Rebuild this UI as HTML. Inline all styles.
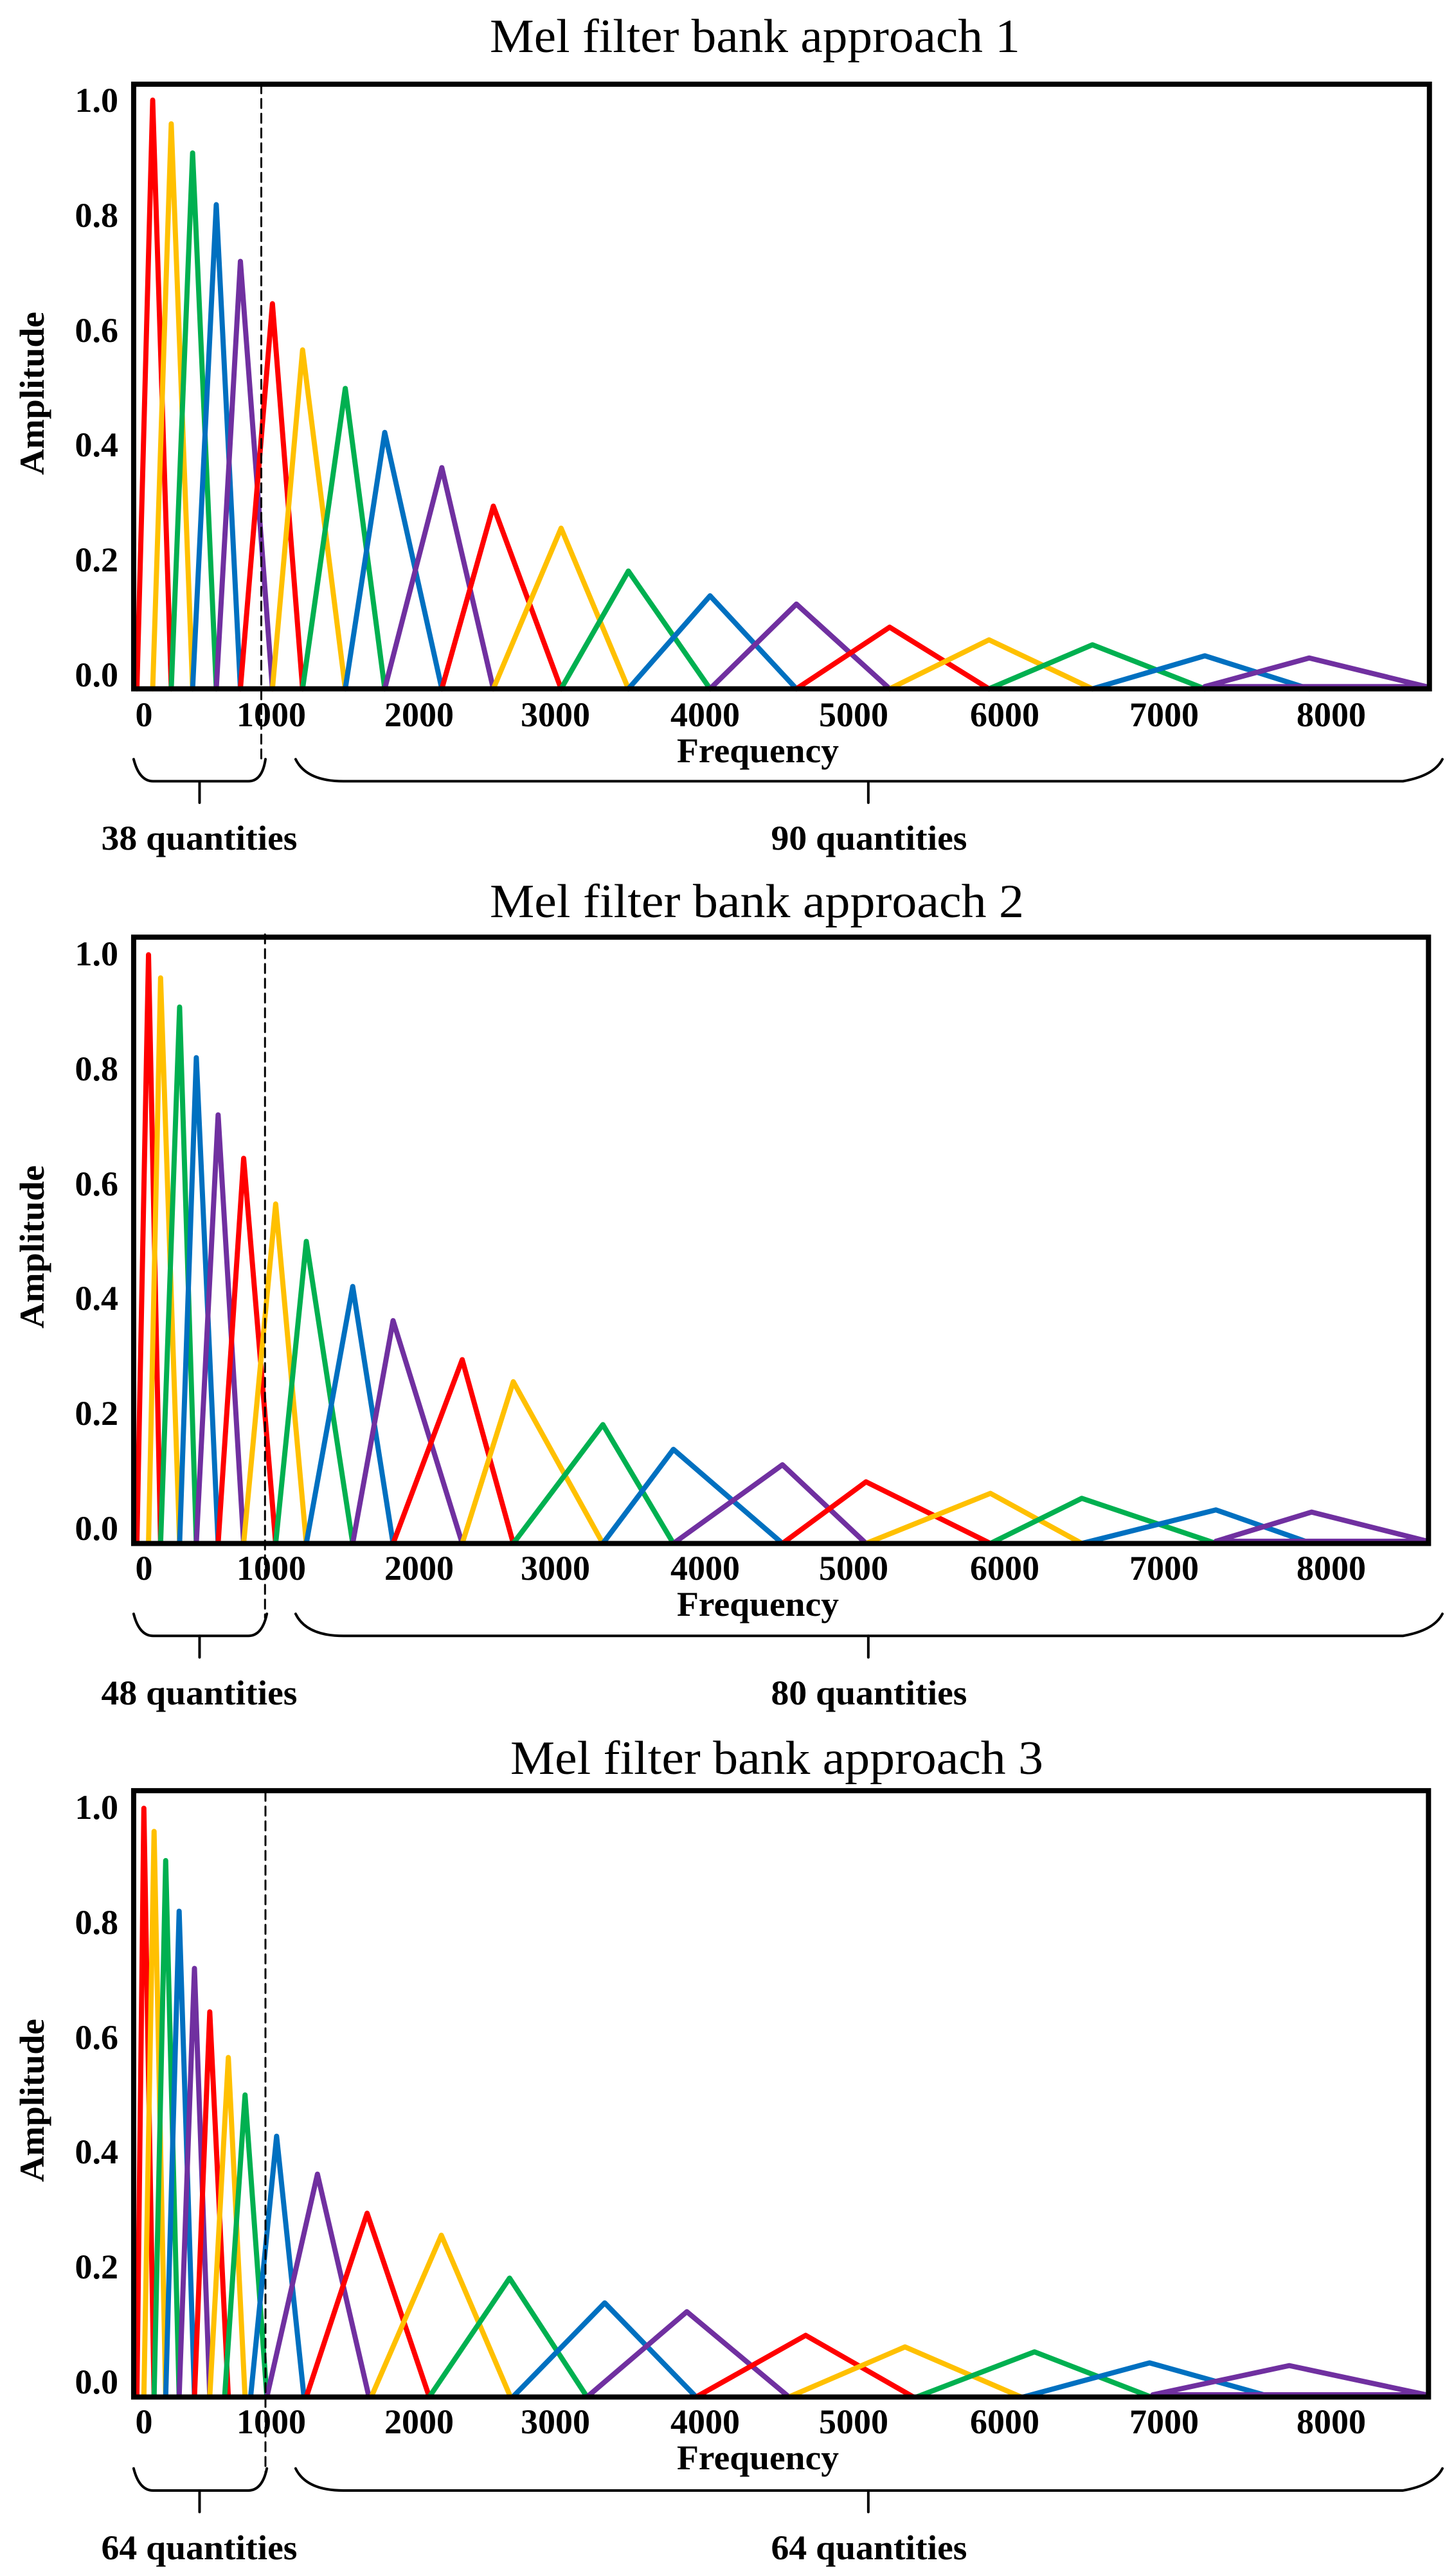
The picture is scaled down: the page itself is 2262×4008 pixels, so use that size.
<!DOCTYPE html>
<html><head><meta charset="utf-8"><style>
html,body{margin:0;padding:0;background:#fff;}
svg{display:block;}
.t{font-family:"Liberation Serif",serif;font-size:74px;fill:#000;}
.b{font-family:"Liberation Serif",serif;font-weight:bold;font-size:54px;fill:#000;}
</style></head><body>
<svg width="2262" height="4008" viewBox="0 0 2262 4008" xmlns="http://www.w3.org/2000/svg">
<rect width="2262" height="4008" fill="#fff"/>

<!-- PANEL 1 geometry (zoom coords) -->
<g transform="translate(0,0) scale(0.722,0.856)" fill="none" stroke-linejoin="round" stroke-linecap="round">
<polyline vector-effect="non-scaling-stroke" stroke-width="8" stroke="#FF0000" points="295,1252 329,182 369,1252"/>
<polyline vector-effect="non-scaling-stroke" stroke-width="8" stroke="#FFC000" points="329,1252 369,225 415,1252"/>
<polyline vector-effect="non-scaling-stroke" stroke-width="8" stroke="#00B050" points="369,1252 415,278 466,1252"/>
<polyline vector-effect="non-scaling-stroke" stroke-width="8" stroke="#0070C0" points="415,1252 466,372 518,1252"/>
<polyline vector-effect="non-scaling-stroke" stroke-width="8" stroke="#7030A0" points="466,1252 518,475 587,1252"/>
<polyline vector-effect="non-scaling-stroke" stroke-width="8" stroke="#FF0000" points="518,1252 587,552 652,1252"/>
<polyline vector-effect="non-scaling-stroke" stroke-width="8" stroke="#FFC000" points="587,1252 652,636 744,1252"/>
<polyline vector-effect="non-scaling-stroke" stroke-width="8" stroke="#00B050" points="652,1252 744,706 829,1252"/>
<polyline vector-effect="non-scaling-stroke" stroke-width="8" stroke="#0070C0" points="744,1252 829,786 952,1252"/>
<polyline vector-effect="non-scaling-stroke" stroke-width="8" stroke="#7030A0" points="829,1252 952,850 1063,1252"/>
<polyline vector-effect="non-scaling-stroke" stroke-width="8" stroke="#FF0000" points="952,1252 1063,920 1209,1252"/>
<polyline vector-effect="non-scaling-stroke" stroke-width="8" stroke="#FFC000" points="1063,1252 1209,960 1354,1252"/>
<polyline vector-effect="non-scaling-stroke" stroke-width="8" stroke="#00B050" points="1209,1252 1354,1038 1530,1252"/>
<polyline vector-effect="non-scaling-stroke" stroke-width="8" stroke="#0070C0" points="1354,1252 1530,1083 1716,1252"/>
<polyline vector-effect="non-scaling-stroke" stroke-width="8" stroke="#7030A0" points="1530,1252 1716,1098 1917,1252"/>
<polyline vector-effect="non-scaling-stroke" stroke-width="8" stroke="#FF0000" points="1716,1252 1917,1140 2131,1252"/>
<polyline vector-effect="non-scaling-stroke" stroke-width="8" stroke="#FFC000" points="1917,1252 2131,1163 2354,1252"/>
<polyline vector-effect="non-scaling-stroke" stroke-width="8" stroke="#00B050" points="2131,1252 2354,1172 2596,1252"/>
<polyline vector-effect="non-scaling-stroke" stroke-width="8" stroke="#0070C0" points="2354,1252 2596,1192 2821,1252"/>
<polyline vector-effect="non-scaling-stroke" stroke-width="8" stroke="#7030A0" points="2596,1248 2821,1196 3073,1248 2596,1248"/>
<rect x="288" y="153" width="2792" height="1099" stroke="#000" stroke-width="8" vector-effect="non-scaling-stroke" stroke-linejoin="miter"/>
<line x1="563" y1="153" x2="563" y2="1385" stroke="#000" stroke-width="3" stroke-dasharray="14 9" vector-effect="non-scaling-stroke"/>
<path d="M288,1380 Q300,1420 330,1420 L535,1420 Q565,1420 572,1380" stroke="#000" stroke-width="4" vector-effect="non-scaling-stroke"/>
<line x1="430" y1="1420" x2="430" y2="1459" stroke="#000" stroke-width="4" vector-effect="non-scaling-stroke"/>
<path d="M637,1380 Q660,1420 740,1420 L3023,1420 Q3090,1410 3108,1380" stroke="#000" stroke-width="4" vector-effect="non-scaling-stroke"/>
<line x1="1871" y1="1420" x2="1871" y2="1459" stroke="#000" stroke-width="4" vector-effect="non-scaling-stroke"/>
</g>

<!-- PANEL 2 geometry -->
<g transform="translate(0,1340) scale(0.722,0.856)" fill="none" stroke-linejoin="round" stroke-linecap="round">
<polyline vector-effect="non-scaling-stroke" stroke-width="8" stroke="#FF0000" points="295,1240 320,170 346,1240"/>
<polyline vector-effect="non-scaling-stroke" stroke-width="8" stroke="#FFC000" points="320,1240 346,212 387,1240"/>
<polyline vector-effect="non-scaling-stroke" stroke-width="8" stroke="#00B050" points="346,1240 387,265 423,1240"/>
<polyline vector-effect="non-scaling-stroke" stroke-width="8" stroke="#0070C0" points="387,1240 423,357 470,1240"/>
<polyline vector-effect="non-scaling-stroke" stroke-width="8" stroke="#7030A0" points="423,1240 470,461 525,1240"/>
<polyline vector-effect="non-scaling-stroke" stroke-width="8" stroke="#FF0000" points="470,1240 525,540 594,1240"/>
<polyline vector-effect="non-scaling-stroke" stroke-width="8" stroke="#FFC000" points="525,1240 594,623 660,1240"/>
<polyline vector-effect="non-scaling-stroke" stroke-width="8" stroke="#00B050" points="594,1240 660,691 760,1240"/>
<polyline vector-effect="non-scaling-stroke" stroke-width="8" stroke="#0070C0" points="660,1240 760,773 847,1240"/>
<polyline vector-effect="non-scaling-stroke" stroke-width="8" stroke="#7030A0" points="760,1240 847,835 996,1240"/>
<polyline vector-effect="non-scaling-stroke" stroke-width="8" stroke="#FF0000" points="847,1240 996,906 1106,1240"/>
<polyline vector-effect="non-scaling-stroke" stroke-width="8" stroke="#FFC000" points="996,1240 1106,946 1299,1240"/>
<polyline vector-effect="non-scaling-stroke" stroke-width="8" stroke="#00B050" points="1106,1240 1299,1024 1451,1240"/>
<polyline vector-effect="non-scaling-stroke" stroke-width="8" stroke="#0070C0" points="1299,1240 1451,1069 1686,1240"/>
<polyline vector-effect="non-scaling-stroke" stroke-width="8" stroke="#7030A0" points="1451,1240 1686,1097 1866,1240"/>
<polyline vector-effect="non-scaling-stroke" stroke-width="8" stroke="#FF0000" points="1686,1240 1866,1128 2134,1240"/>
<polyline vector-effect="non-scaling-stroke" stroke-width="8" stroke="#FFC000" points="1866,1240 2134,1149 2331,1240"/>
<polyline vector-effect="non-scaling-stroke" stroke-width="8" stroke="#00B050" points="2134,1240 2331,1158 2620,1240"/>
<polyline vector-effect="non-scaling-stroke" stroke-width="8" stroke="#0070C0" points="2331,1240 2620,1179 2826,1240"/>
<polyline vector-effect="non-scaling-stroke" stroke-width="8" stroke="#7030A0" points="2620,1236 2826,1183 3076,1236 2620,1236"/>
<rect x="288" y="138" width="2790" height="1102" stroke="#000" stroke-width="8" vector-effect="non-scaling-stroke" stroke-linejoin="miter"/>
<line x1="571" y1="133" x2="571" y2="1375" stroke="#000" stroke-width="3" stroke-dasharray="14 9" vector-effect="non-scaling-stroke"/>
<path d="M288,1368 Q300,1408 330,1408 L535,1408 Q565,1408 575,1368" stroke="#000" stroke-width="4" vector-effect="non-scaling-stroke"/>
<line x1="430" y1="1408" x2="430" y2="1447" stroke="#000" stroke-width="4" vector-effect="non-scaling-stroke"/>
<path d="M637,1368 Q660,1408 740,1408 L3023,1408 Q3090,1398 3108,1368" stroke="#000" stroke-width="4" vector-effect="non-scaling-stroke"/>
<line x1="1871" y1="1408" x2="1871" y2="1447" stroke="#000" stroke-width="4" vector-effect="non-scaling-stroke"/>
</g>

<!-- PANEL 3 geometry -->
<g transform="translate(0,2668) scale(0.722,0.856)" fill="none" stroke-linejoin="round" stroke-linecap="round">
<polyline vector-effect="non-scaling-stroke" stroke-width="8" stroke="#FF0000" points="295,1240 310,170 332,1240"/>
<polyline vector-effect="non-scaling-stroke" stroke-width="8" stroke="#FFC000" points="310,1240 332,212 357,1240"/>
<polyline vector-effect="non-scaling-stroke" stroke-width="8" stroke="#00B050" points="332,1240 357,265 386,1240"/>
<polyline vector-effect="non-scaling-stroke" stroke-width="8" stroke="#0070C0" points="357,1240 386,357 419,1240"/>
<polyline vector-effect="non-scaling-stroke" stroke-width="8" stroke="#7030A0" points="386,1240 419,461 452,1240"/>
<polyline vector-effect="non-scaling-stroke" stroke-width="8" stroke="#FF0000" points="419,1240 452,540 492,1240"/>
<polyline vector-effect="non-scaling-stroke" stroke-width="8" stroke="#FFC000" points="452,1240 492,623 528,1240"/>
<polyline vector-effect="non-scaling-stroke" stroke-width="8" stroke="#00B050" points="484,1240 528,691 575,1240"/>
<polyline vector-effect="non-scaling-stroke" stroke-width="8" stroke="#0070C0" points="540,1240 596,766 655,1240 800,1240"/>
<polyline vector-effect="non-scaling-stroke" stroke-width="8" stroke="#7030A0" points="575,1240 684,835 795,1240"/>
<polyline vector-effect="non-scaling-stroke" stroke-width="8" stroke="#FF0000" points="660,1240 791,906 925,1240"/>
<polyline vector-effect="non-scaling-stroke" stroke-width="8" stroke="#FFC000" points="800,1240 951,946 1100,1240"/>
<polyline vector-effect="non-scaling-stroke" stroke-width="8" stroke="#00B050" points="925,1240 1098,1024 1265,1240"/>
<polyline vector-effect="non-scaling-stroke" stroke-width="8" stroke="#0070C0" points="1105,1240 1303,1069 1500,1240"/>
<polyline vector-effect="non-scaling-stroke" stroke-width="8" stroke="#7030A0" points="1265,1240 1480,1085 1700,1240"/>
<polyline vector-effect="non-scaling-stroke" stroke-width="8" stroke="#FF0000" points="1500,1240 1736,1128 1968,1240"/>
<polyline vector-effect="non-scaling-stroke" stroke-width="8" stroke="#FFC000" points="1700,1240 1950,1149 2200,1240"/>
<polyline vector-effect="non-scaling-stroke" stroke-width="8" stroke="#00B050" points="1975,1240 2229,1158 2480,1240"/>
<polyline vector-effect="non-scaling-stroke" stroke-width="8" stroke="#0070C0" points="2205,1240 2477,1178 2740,1240"/>
<polyline vector-effect="non-scaling-stroke" stroke-width="8" stroke="#7030A0" points="2484,1236 2778,1183 3073,1236 2484,1236"/>
<rect x="288" y="138" width="2790" height="1102" stroke="#000" stroke-width="8" vector-effect="non-scaling-stroke" stroke-linejoin="miter"/>
<line x1="572" y1="140" x2="572" y2="1380" stroke="#000" stroke-width="3" stroke-dasharray="14 9" vector-effect="non-scaling-stroke"/>
<path d="M288,1370 Q300,1410 330,1410 L535,1410 Q565,1410 575,1370" stroke="#000" stroke-width="4" vector-effect="non-scaling-stroke"/>
<line x1="430" y1="1410" x2="430" y2="1449" stroke="#000" stroke-width="4" vector-effect="non-scaling-stroke"/>
<path d="M637,1370 Q660,1410 740,1410 L3023,1410 Q3090,1400 3108,1370" stroke="#000" stroke-width="4" vector-effect="non-scaling-stroke"/>
<line x1="1871" y1="1410" x2="1871" y2="1449" stroke="#000" stroke-width="4" vector-effect="non-scaling-stroke"/>
</g>

<!-- TEXT (real coords) -->
<text class="t" x="762" y="81" textLength="825" lengthAdjust="spacingAndGlyphs">Mel filter bank approach 1</text>
<text class="t" x="762" y="1427" textLength="831" lengthAdjust="spacingAndGlyphs">Mel filter bank approach 2</text>
<text class="t" x="794" y="2760" textLength="829" lengthAdjust="spacingAndGlyphs">Mel filter bank approach 3</text>

<g id="labels1">
<g class="b" text-anchor="end">
<text x="184" y="174">1.0</text><text x="184" y="353">0.8</text><text x="184" y="532">0.6</text>
<text x="184" y="710">0.4</text><text x="184" y="889">0.2</text><text x="184" y="1068">0.0</text>
</g>
<g class="b" text-anchor="middle">
<text x="224" y="1130">0</text><text x="422" y="1130">1000</text><text x="652" y="1130">2000</text>
<text x="864" y="1130">3000</text><text x="1097" y="1130">4000</text><text x="1328" y="1130">5000</text>
<text x="1563" y="1130">6000</text><text x="1811" y="1130">7000</text><text x="2071" y="1130">8000</text>
</g>
<text class="b" x="1053" y="1186" textLength="252" lengthAdjust="spacingAndGlyphs">Frequency</text>
<text class="b" text-anchor="middle" transform="translate(68,612) rotate(-90)" textLength="254" lengthAdjust="spacingAndGlyphs">Amplitude</text>
</g>
<use href="#labels1" transform="translate(0,1328)"/>
<use href="#labels1" transform="translate(0,2656)"/>

<g class="b" text-anchor="middle">
<text x="310" y="1322" textLength="305" lengthAdjust="spacingAndGlyphs">38 quantities</text>
<text x="1352" y="1322" textLength="305" lengthAdjust="spacingAndGlyphs">90 quantities</text>
<text x="310" y="2652" textLength="305" lengthAdjust="spacingAndGlyphs">48 quantities</text>
<text x="1352" y="2652" textLength="305" lengthAdjust="spacingAndGlyphs">80 quantities</text>
<text x="310" y="3982" textLength="305" lengthAdjust="spacingAndGlyphs">64 quantities</text>
<text x="1352" y="3982" textLength="305" lengthAdjust="spacingAndGlyphs">64 quantities</text>
</g>
</svg>
</body></html>
